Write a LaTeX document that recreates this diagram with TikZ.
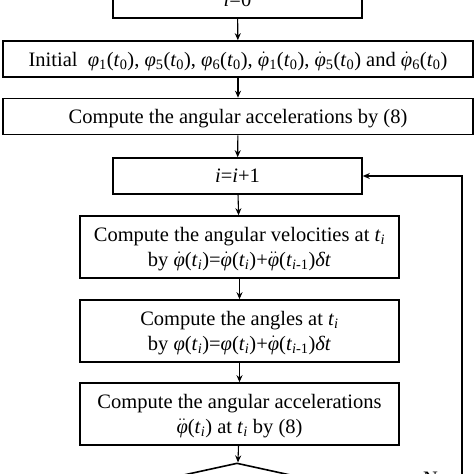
\documentclass[tikz,border=0pt]{standalone}
\usepackage{fontspec}
\setmainfont{Liberation Serif}
\usepackage{amsmath}
\usetikzlibrary{arrows.meta}
\usetikzlibrary{shapes.geometric}
\tikzstyle{stepbox} = [draw=black, line width=1.6pt,
    rectangle, inner sep=0pt, align=center, minimum height=36, text depth=0pt]
\tikzstyle{checkbox} = [draw=black, line width=1.6pt, diamond, inner sep=0pt]
\tikzstyle{flow} = [line width=1.1pt, -{Stealth[length=7pt,width=6pt]}]
\newcommand{\fii}{\textit{φ}}
\newcommand{\dfii}{$\dot{\text{\itshape φ}}$}
\newcommand{\ddfii}{$\ddot{\text{\itshape φ}}$}
\newcommand{\tv}{\textit{t}}
\newcommand{\lo}[1]{\textsubscript{#1}}

\begin{document}
\begin{tikzpicture}[x=1pt,y=-1pt]
\fontsize{20.5}{25}\selectfont
\spaceskip=0.36em plus 0.1em
\useasboundingbox (0,0) rectangle (474,474);
\clip (0,0) rectangle (474,474);

\def\narrow{249}
\def\wide{470}
\def\mid{319}

\node[stepbox, minimum width=\narrow] (start) at (237.5,0) {\textit{i}=0};
\node[stepbox, minimum width=\wide] (init) at (238,59) {Initial\ \ \fii\lo{1}(\tv\lo{0}), \fii\lo{5}(\tv\lo{0}), \fii\lo{6}(\tv\lo{0}), \dfii\lo{1}(\tv\lo{0}), \dfii\lo{5}(\tv\lo{0}) and \dfii\lo{6}(\tv\lo{0})};
\node[stepbox, minimum width=\wide] (acc) at (238,116.5) {Compute the angular accelerations by (8)};
\node[stepbox, minimum width=\narrow] (incr) at (237.5,176) {\textit{i}=\textit{i}+1};
\node[stepbox, minimum width=\mid, minimum height=62] (vel) at (239.5,247) {Compute the angular velocities at \tv\lo{\textit{i}}\\ by \dfii(\tv\lo{\textit{i}})=\dfii(\tv\lo{\textit{i}})+\ddfii(\tv\lo{\textit{i}-1})\textit{δt}};
\node[stepbox, minimum width=\mid, minimum height=62] (ang) at (239.5,331) {Compute the angles at \tv\lo{\textit{i}}\\ by \fii(\tv\lo{\textit{i}})=\fii(\tv\lo{\textit{i}})+\dfii(\tv\lo{\textit{i}-1})\textit{δt}};
\node[stepbox, minimum width=\mid, minimum height=62] (accnew) at (239.5,414) {Compute the angular accelerations\\ \ddfii(\tv\lo{\textit{i}}) at \tv\lo{\textit{i}} by (8)};
\node[checkbox, minimum width=272, minimum height=60] (check) at (237,493) {};

\coordinate (loop) at (462,0);

\draw[flow] (start) -- (init);
\draw[flow] (init) -- (acc);
\draw[flow] (acc) -- (incr);
\draw[flow] (incr) -- (vel);
\draw[flow] (vel) -- (ang);
\draw[flow] (ang) -- (accnew);
\draw[flow] (accnew) -- (check);
\draw[flow] (check.east) -- (check.east -| loop) node[pos=0.7, above]{No} |- (incr.east);

\end{tikzpicture}
\end{document}
